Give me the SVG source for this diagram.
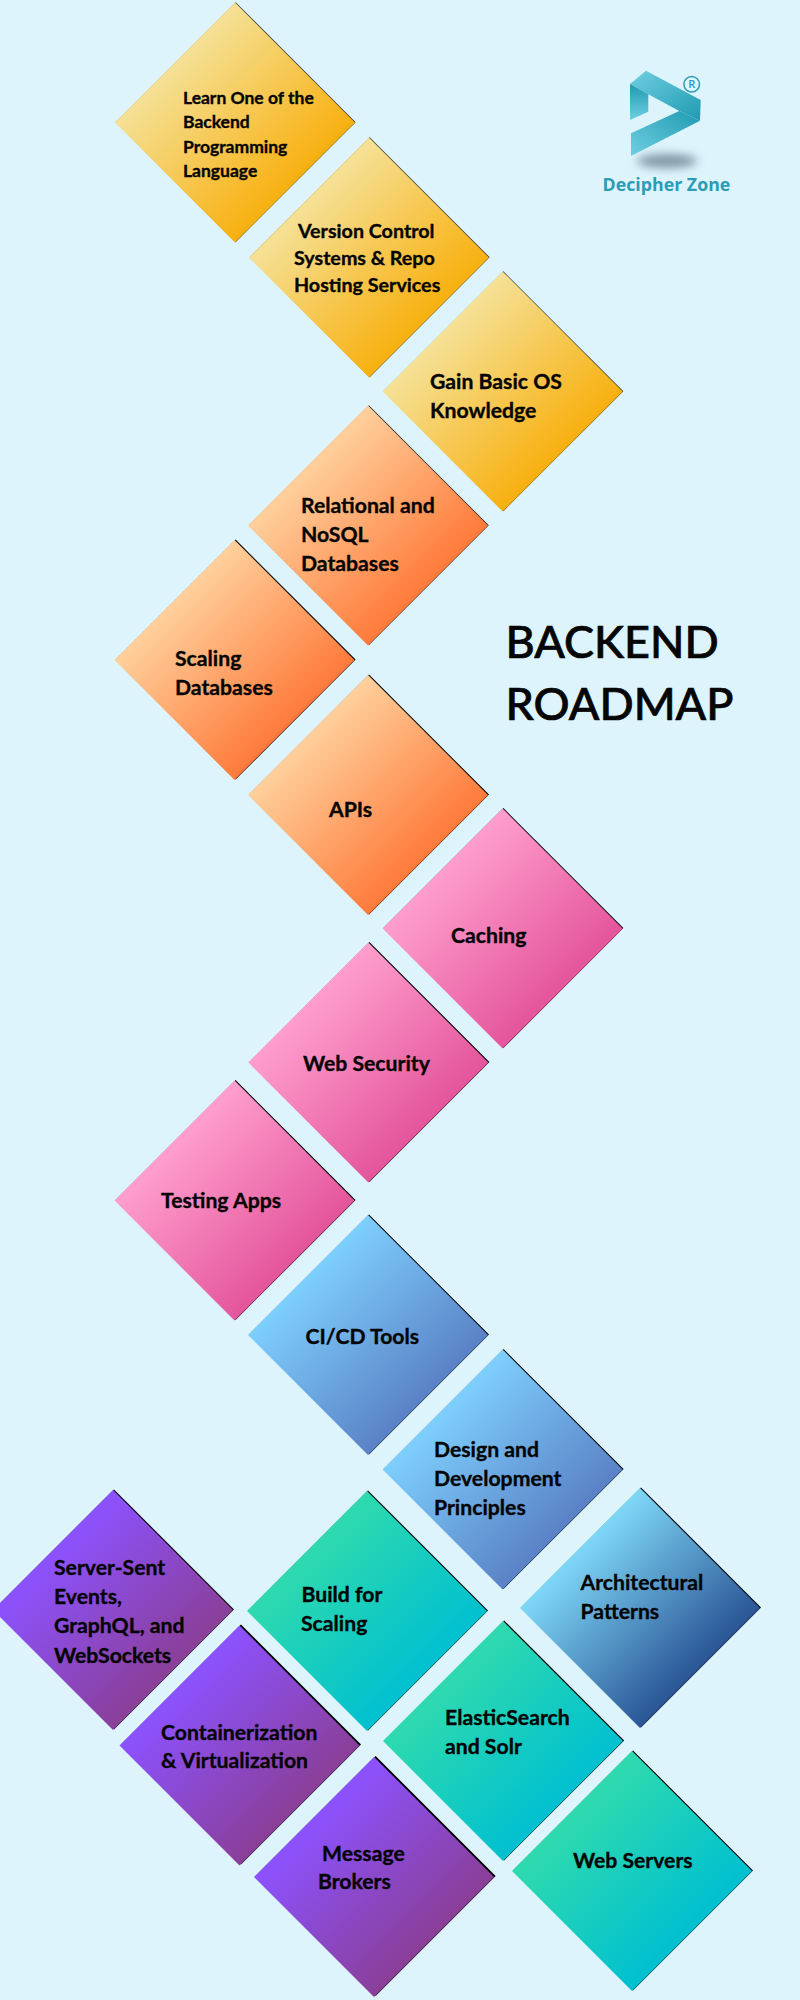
<svg xmlns="http://www.w3.org/2000/svg" width="800" height="2000" viewBox="0 0 800 2000">
<style>
text{font-family:Lato,"Open Sans","Liberation Sans",sans-serif;font-weight:700;fill:#050505;stroke:#050505;stroke-width:.35px}
.l{font-size:21.2px}
.m{font-size:19.7px}
.s{font-size:17.5px}
.t{font-size:45px;font-weight:500;stroke-width:.7px}
.e1{fill:#222}
.e2{fill:#000}
.y{fill:url(#y)}.o{fill:url(#o)}.p{fill:url(#p)}.b{fill:url(#b)}.a{fill:url(#a)}.g{fill:url(#g)}.v{fill:url(#v)}
text.k{font-family:"Open Sans","Liberation Sans",sans-serif;font-size:17.8px;fill:#2a9cb6;stroke:none}
text.r{font-family:"Open Sans",sans-serif;font-size:11px;fill:#2a9cb6;font-weight:600;stroke:none}
</style>
<defs>
<polygon id="d" points="0,-120 120,0 0,120 -120,0"/>
<linearGradient id="y" x1=".25" y1=".25" x2=".75" y2=".75"><stop offset="0" stop-color="#f5e197"/><stop offset="1" stop-color="#f8b010"/></linearGradient>
<linearGradient id="o" x1=".25" y1=".25" x2=".75" y2=".75"><stop offset="0" stop-color="#ffd09c"/><stop offset="1" stop-color="#ff7a3a"/></linearGradient>
<linearGradient id="p" x1=".25" y1=".25" x2=".75" y2=".75"><stop offset="0" stop-color="#ff9fcd"/><stop offset="1" stop-color="#e4559c"/></linearGradient>
<linearGradient id="b" x1=".25" y1=".25" x2=".75" y2=".75"><stop offset="0" stop-color="#7ecffd"/><stop offset="1" stop-color="#5a82c6"/></linearGradient>
<linearGradient id="a" x1=".25" y1=".25" x2=".75" y2=".75"><stop offset="0" stop-color="#7fd8f8"/><stop offset="1" stop-color="#2a5595"/></linearGradient>
<linearGradient id="g" x1=".25" y1=".25" x2=".75" y2=".75"><stop offset="0" stop-color="#2fdaae"/><stop offset="1" stop-color="#00c0d0"/></linearGradient>
<linearGradient id="v" x1=".25" y1=".25" x2=".75" y2=".75"><stop offset="0" stop-color="#8c52ff"/><stop offset="1" stop-color="#8a3f98"/></linearGradient>
<linearGradient id="la" x1="0" y1="0" x2="1" y2="1"><stop offset="0" stop-color="#70cfe2"/><stop offset="1" stop-color="#1f9ab0"/></linearGradient>
<linearGradient id="lb" x1="0" y1="0" x2="0" y2="1"><stop offset="0" stop-color="#1f9ab0"/><stop offset="1" stop-color="#6fcfe2"/></linearGradient>
<linearGradient id="lc" x1="1" y1="0" x2="0" y2="1"><stop offset="0" stop-color="#1f9ab0"/><stop offset="1" stop-color="#6fcfe2"/></linearGradient>
<filter id="blur" x="-50%" y="-100%" width="200%" height="300%"><feGaussianBlur stdDeviation="5"/></filter>
</defs>
<rect width="800" height="2000" fill="#ddf4fc"/>
<g id="connectors"/>
<g id="n1"><use href="#d" class="e1" x="235.6" y="122.2"/><use href="#d" class="y" x="235" y="122.5"/><text class="s" x="183" y="104">Learn One of the</text><text class="s" x="183" y="128">Backend</text><text class="s" x="183" y="153">Programming</text><text class="s" x="183" y="177">Language</text></g>
<g id="n2"><use href="#d" class="e1" x="369.6" y="257.2"/><use href="#d" class="y" x="369" y="257.5"/><text class="m" x="298" y="238">Version Control</text><text class="m" x="294" y="265">Systems &amp; Repo</text><text class="m" x="294" y="292">Hosting Services</text></g>
<g id="n3"><use href="#d" class="e1" x="503.3" y="391.3"/><use href="#d" class="y" x="502.7" y="391.5"/><text class="l" x="430" y="389">Gain Basic OS</text><text class="l" x="430" y="418">Knowledge</text></g>
<g id="n4"><use href="#d" class="e1" x="368.8" y="525.3"/><use href="#d" class="o" x="368" y="525.5"/><text class="l" x="301" y="513">Relational and</text><text class="l" x="301" y="542">NoSQL</text><text class="l" x="301" y="571">Databases</text></g>
<g id="n5"><use href="#d" class="e2" x="235.6" y="659.6"/><use href="#d" class="o" x="234.5" y="660"/><text class="l" x="175" y="666">Scaling</text><text class="l" x="175" y="695">Databases</text></g>
<g id="n6"><use href="#d" class="e2" x="369" y="794.6"/><use href="#d" class="o" x="368" y="795"/><text class="l" x="329" y="816.5">APIs</text></g>
<g id="n7"><use href="#d" class="e2" x="503.4" y="928.1"/><use href="#d" class="p" x="502.6" y="928.5"/><text class="l" x="451" y="942.5">Caching</text></g>
<g id="n8"><use href="#d" class="e2" x="369.4" y="1062"/><use href="#d" class="p" x="368.3" y="1062.5"/><text class="l" x="303" y="1071">Web Security</text></g>
<g id="n9"><use href="#d" class="e2" x="235.6" y="1200"/><use href="#d" class="p" x="234.5" y="1200.5"/><text class="l" x="161" y="1208">Testing Apps</text></g>
<g id="n10"><use href="#d" class="e2" x="369" y="1334.6"/><use href="#d" class="b" x="368" y="1335"/><text class="l" x="305.5" y="1344">CI/CD Tools</text></g>
<g id="n11"><use href="#d" class="e2" x="503.6" y="1469"/><use href="#d" class="b" x="502.6" y="1469.5"/><text class="l" x="434" y="1457">Design and</text><text class="l" x="434" y="1486">Development</text><text class="l" x="434" y="1515">Principles</text></g>
<g id="n12"><use href="#d" class="e2" x="641" y="1607.4"/><use href="#d" class="a" x="640" y="1608"/><text class="l" x="580.5" y="1590">Architectural</text><text class="l" x="580.5" y="1618.5">Patterns</text></g>
<g id="n13"><use href="#d" class="e2" x="114" y="1609.4"/><use href="#d" class="v" x="113" y="1610"/><text class="l" x="54" y="1575">Server-Sent</text><text class="l" x="54" y="1603.5">Events,</text><text class="l" x="54" y="1633">GraphQL, and</text><text class="l" x="54" y="1662.5">WebSockets</text></g>
<g id="n14"><use href="#d" class="e2" x="368" y="1610.4"/><use href="#d" class="g" x="367" y="1611"/><text class="l" x="301.5" y="1601.5">Build for</text><text class="l" x="301" y="1631">Scaling</text></g>
<g id="n15"><use href="#d" class="e2" x="241" y="1744.6"/><use href="#d" class="v" x="239.5" y="1745.5"/><text class="l" x="161" y="1739.5">Containerization</text><text class="l" x="161" y="1768">&amp; Virtualization</text></g>
<g id="n16"><use href="#d" class="e2" x="504.2" y="1740.4"/><use href="#d" class="g" x="503" y="1741"/><text class="l" x="445" y="1725">ElasticSearch</text><text class="l" x="445" y="1754">and Solr</text></g>
<g id="n17"><use href="#d" class="e2" x="375.6" y="1876"/><use href="#d" class="v" x="374" y="1877"/><text class="l" x="322" y="1860.5">Message</text><text class="l" x="318" y="1889">Brokers</text></g>
<g id="n18"><use href="#d" class="e2" x="633" y="1870.4"/><use href="#d" class="g" x="632" y="1871"/><text class="l" x="573" y="1868">Web Servers</text></g>
<text class="t" x="505.5" y="658">BACKEND</text>
<text class="t" x="505.5" y="720">ROADMAP</text>
<g id="logo">
<ellipse cx="667" cy="161" rx="30" ry="7" fill="#7f98a4" filter="url(#blur)"/>
<polygon fill="url(#la)" points="630,84 646,70.7 700.7,100 700,120.7 679.3,111 648.3,94.3"/>
<polygon fill="url(#lb)" points="630,84 648.3,94.3 648.3,111.7 630,120"/>
<polygon fill="url(#lc)" points="679.3,111 700,120.7 631,156 631,133.3"/>
<circle cx="691.7" cy="84.3" r="7.8" fill="none" stroke="#2a9cb6" stroke-width="1.5"/>
<text class="r" x="691.7" y="88.3" text-anchor="middle">R</text>
<text class="k" x="602.5" y="191">Decipher Zone</text>
</g>
</svg>
